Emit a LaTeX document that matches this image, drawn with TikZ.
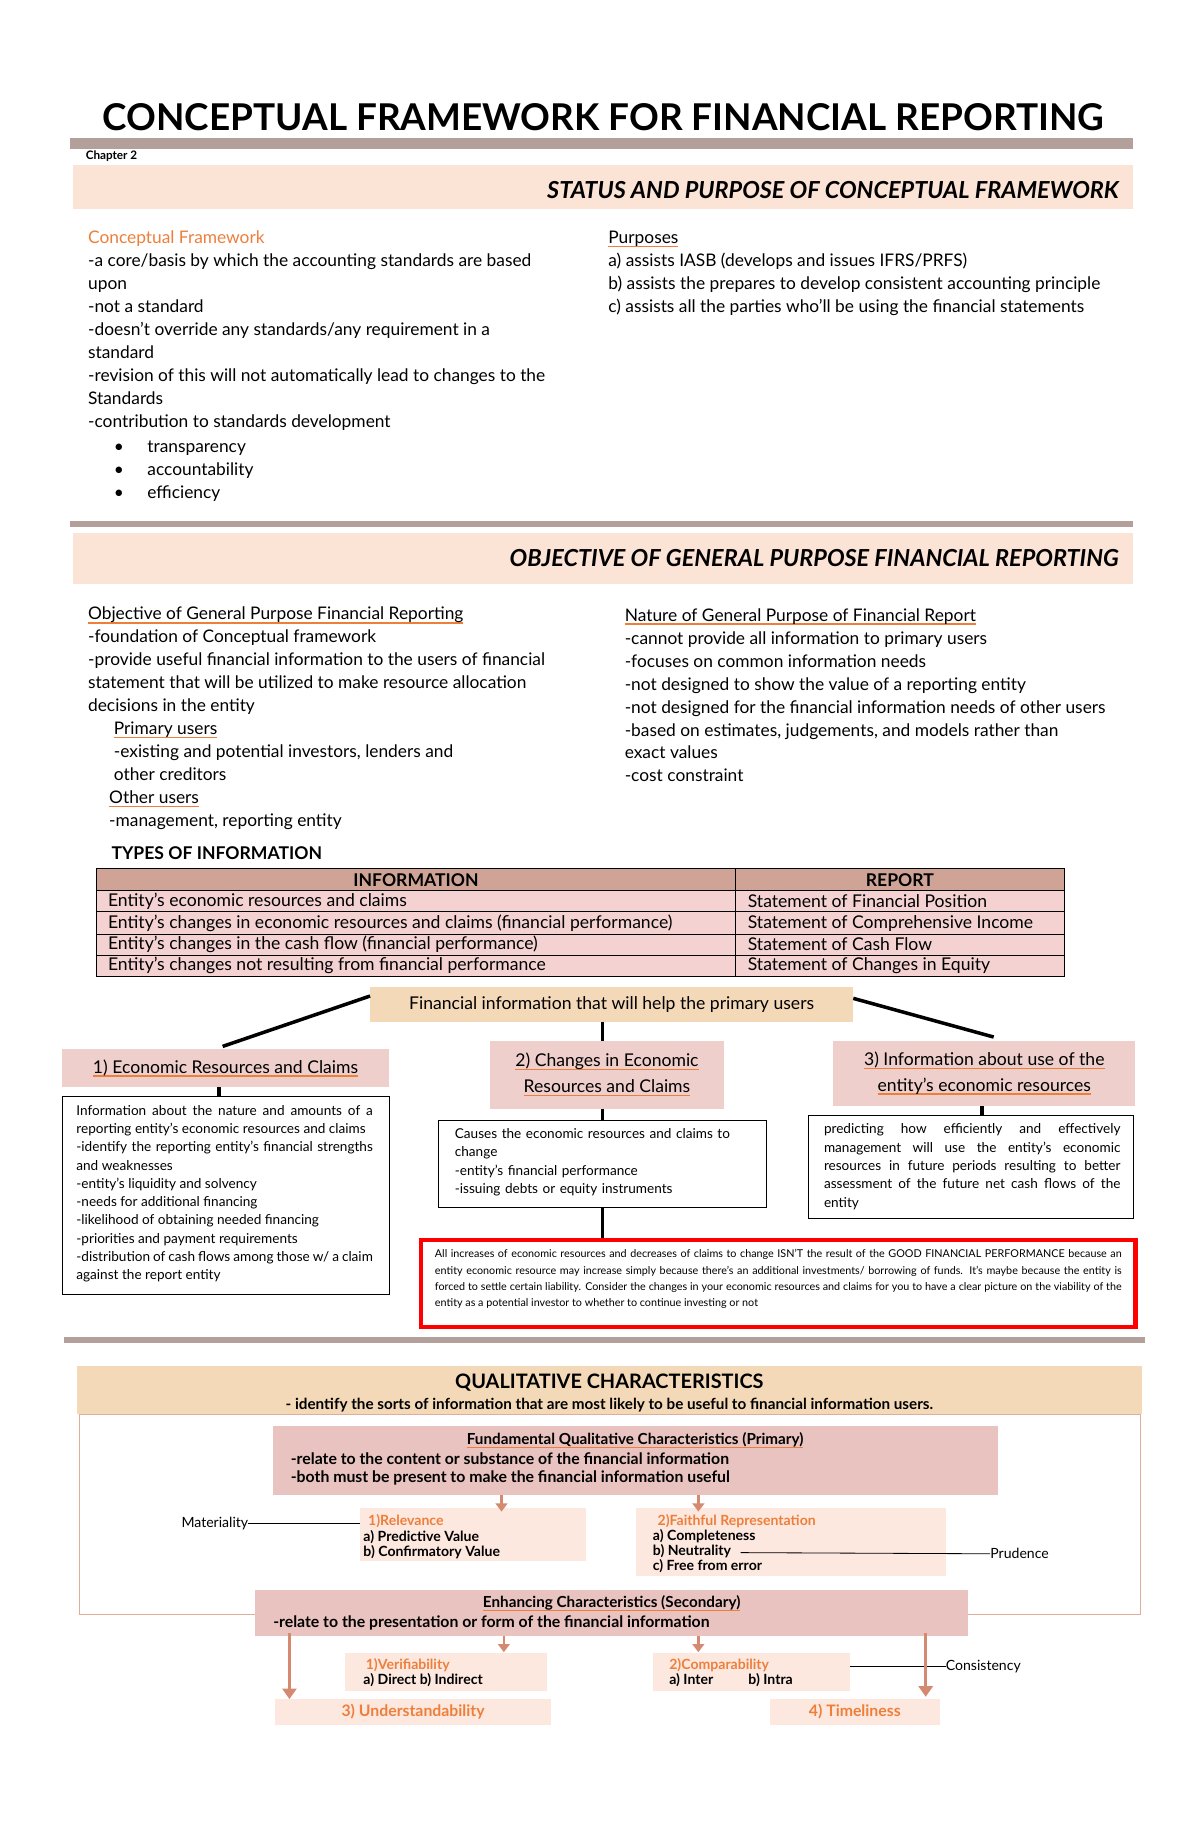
\documentclass[tikz,border=0pt]{standalone}
\usepackage{fontspec}
\setmainfont{Lato}
\usetikzlibrary{arrows.meta}
\definecolor{bandpink}{HTML}{FBE3D6}
\definecolor{bargray}{HTML}{B3A09B}
\definecolor{orng}{HTML}{EE7F3B}
\definecolor{hdr}{HTML}{CFA497}
\definecolor{rowp}{HTML}{F4D2D2}
\definecolor{tan}{HTML}{F3D9B8}
\definecolor{boxp}{HTML}{EFCFCB}
\definecolor{fund}{HTML}{E9C3BF}
\definecolor{light}{HTML}{FDE8DF}
\definecolor{arr}{HTML}{D48A70}
\hyphenpenalty=10000
\newcommand\oul[1]{\setbox0\hbox{#1}\rlap{\textcolor{orng}{\rule[-3pt]{\wd0}{1.2pt}}}\box0}
\newcommand\ful[1]{\setbox0\hbox{#1}\rlap{\textcolor{orng}{\rule[-3pt]{\wd0}{1pt}}}\box0}
\tikzset{
 body/.style={anchor=north west,align=left,inner sep=0pt,font=\fontsize{14.8}{19.6}\selectfont},
 small/.style={anchor=north west,align=left,inner sep=0pt,font=\fontsize{11.6}{15.6}\selectfont},
 band/.style={fill=bandpink,draw=none},
 bar/.style={fill=bargray,draw=none},
 ttl/.style={anchor=east,inner sep=0pt,font=\fontsize{20}{22}\selectfont\bfseries\itshape},
 con/.style={line width=3pt},
 thin/.style={draw=black,line width=0.7pt},
 darr/.style={draw=arr,line width=3pt,-{Triangle[length=9pt,width=12pt]}},
 sarr/.style={draw=arr,line width=2pt,-{Triangle[length=7pt,width=10pt]}},
 q/.style={font=\fontsize{12}{14}\selectfont,inner sep=0pt},
 tab/.style={anchor=west,inner sep=0pt,font=\fontsize{15}{16}\selectfont}
}
\begin{document}
\begin{tikzpicture}[x=1pt,y=-1pt]
\fill[white] (0,0) rectangle (1024,1566);
\useasboundingbox (0,0) rectangle (1024,1566);
% title
\node[inner sep=0pt,font=\fontsize{31.5}{34}\selectfont\bfseries] (title) at (515,100) {CONCEPTUAL FRAMEWORK FOR FINANCIAL REPORTING};
\fill[bar] (60,118) rectangle (967,127);
\node[anchor=west,inner sep=0pt,font=\fontsize{10}{12}\selectfont\bfseries] (ch) at (73,133) {Chapter 2};
\fill[band] (62,141) rectangle (967,178);
\node[ttl] (t1) at (955,162) {STATUS AND PURPOSE OF CONCEPTUAL FRAMEWORK};
\node[body] (cf) at (75,197) {\textcolor{orng}{Conceptual Framework}\\
-a core/basis by which the accounting standards are based\\
upon\\ -not a standard\\
-doesn't override any standards/any requirement in a\\ standard\\
-revision of this will not automatically lead to changes to the\\ Standards\\
-contribution to standards development};
\node[body] (bl) at (97,376) {•\hspace{20pt}transparency\\ •\hspace{20pt}accountability\\ •\hspace{20pt}efficiency};
\node[body] (pur) at (519,197) {\oul{Purposes}\\
a) assists IASB (develops and issues IFRS/PRFS)\\
b) assists the prepares to develop consistent accounting principle\\
c) assists all the parties who'll be using the financial statements};
\fill[bar] (60,445) rectangle (967,450);
\fill[band] (62,455) rectangle (967,498);
\node[ttl] (t2) at (955,476) {OBJECTIVE OF GENERAL PURPOSE FINANCIAL REPORTING};
\node[body] (obj) at (75,518) {\oul{Objective of General Purpose Financial Reporting}\\
-foundation of Conceptual framework\\
-provide useful financial information to the users of financial\\
statement that will be utilized to make resource allocation\\
decisions in the entity};
\node[body] (pu) at (97,616) {\oul{Primary users}\\ -existing and potential investors, lenders and\\ other creditors};
\node[body] (ou) at (93,675) {\oul{Other users}\\ -management, reporting entity};
\node[body] (nat) at (533,519) {\oul{Nature of General Purpose of Financial Report}\\
-cannot provide all information to primary users\\
-focuses on common information needs\\
-not designed to show the value of a reporting entity\\
-not designed for the financial information needs of other users\\
-based on estimates, judgements, and models rather than\\ exact values\\ -cost constraint};
\node[anchor=west,inner sep=0pt,font=\fontsize{15}{16}\selectfont\bfseries] (toi) at (95,728) {TYPES OF INFORMATION};
% table
\fill[hdr] (82,741) rectangle (908,760);
\fill[rowp] (82,760) rectangle (908,833);
\draw[thin] (82,741) rectangle (908,833);
\foreach \yy in {760,778,797,815} \draw[thin] (82,\yy) -- (908,\yy);
\draw[thin] (628,741) -- (628,833);
\node[inner sep=0pt,font=\fontsize{15}{16}\selectfont\bfseries] (h1) at (355,751) {INFORMATION};
\node[inner sep=0pt,font=\fontsize{15}{16}\selectfont\bfseries] (h2) at (768,751) {REPORT};
\foreach \yy/\a/\b in {769/{Entity's economic resources and claims}/{Statement of Financial Position},
 788/{Entity's changes in economic resources and claims (financial performance)}/{Statement of Comprehensive Income},
 806/{Entity's changes in the cash flow (financial performance)}/{Statement of Cash Flow},
 824/{Entity's changes not resulting from financial performance}/{Statement of Changes in Equity}}{
 \node[tab] at (92,\yy) {\a};
 \node[tab] at (638,\yy) {\b};}
% tree
\node[fill=tan,minimum width=412pt,minimum height=30pt,inner sep=0pt,font=\fontsize{15}{16}\selectfont] (fi) at (522,857) {Financial information that will help the primary users};
\node[fill=boxp,minimum width=279pt,minimum height=33pt,inner sep=0pt,font=\fontsize{15}{16}\selectfont] (b1) at (192.5,911.5) {\oul{1) Economic Resources and Claims}};
\node[fill=boxp,minimum width=200pt,minimum height=58pt,inner sep=0pt,align=center,font=\fontsize{15}{22}\selectfont] (b2) at (518,917) {\oul{2) Changes in Economic}\\ \oul{Resources and Claims}};
\node[fill=boxp,minimum width=258pt,minimum height=56pt,inner sep=0pt,align=center,font=\fontsize{15}{22}\selectfont] (b3) at (840,916) {\oul{3) Information about use of the}\\ \oul{entity's economic resources}};
\draw[con] (fi.west) ++(0,-7) coordinate (fw) -- (190,893) coordinate (e1);
\draw[con] (fi.east) ++(0,-5) coordinate (fe) -- (848,885) coordinate (e3);
\draw[con] (514,872) -- (514,888);
\node[thin,minimum width=279pt,minimum height=169pt,inner sep=0pt] (A) at (192.5,1020.5) {};
\node[small,text width=253pt,align=justify] (At) at (65,943) {Information about the nature and amounts of a reporting entity's economic resources and claims\\
-identify the reporting entity's financial strengths and weaknesses\\
-entity's liquidity and solvency\\ -needs for additional financing\\ -likelihood of obtaining needed financing\\ -priorities and payment requirements\\
-distribution of cash flows among those w/ a claim against the report entity};
\node[thin,minimum width=280pt,minimum height=74pt,inner sep=0pt] (B) at (514,993) {};
\node[small,text width=250pt] (Bt) at (388,963) {Causes the economic resources and claims to change\\ -entity's financial performance\\ -issuing debts or equity instruments};
\node[thin,minimum width=277pt,minimum height=88pt,inner sep=0pt] (C) at (828.5,996) {};
\node[small,text width=253pt,align=justify] (Ct) at (703,959) {predicting how efficiently and effectively management will use the entity's economic resources in future periods resulting to better assessment of the future net cash flows of the entity};
\draw[con] (187,928) -- (A.north -| 187,0);
\draw[con] (b2.south -| 514,0) -- (B.north);
\draw[con] (838,944) -- (C.north -| 838,0);
\node[draw=red,line width=3.5pt,minimum width=610pt,minimum height=74pt,inner sep=0pt] (R) at (664,1095.5) {};
\draw[con] (B.south) -- (R.north -| 514,0);
\node[anchor=north west,inner sep=0pt,text width=586pt,align=justify,font=\fontsize{9.2}{14}\selectfont] (Rt) at (371,1066) {All increases of economic resources and decreases of claims to change ISN'T the result of the GOOD FINANCIAL PERFORMANCE because an entity economic resource may increase simply because there's an additional investments/ borrowing of funds. It's maybe because the entity is forced to settle certain liability. Consider the changes in your economic resources and claims for you to have a clear picture on the viability of the entity as a potential investor to whether to continue investing or not};
\fill[bar] (55,1141) rectangle (977,1146);
% qualitative
\fill[tan] (66,1166) rectangle (975,1207);
\draw[draw=arr!70,line width=1pt] (68,1207) rectangle (973,1378);
\node[inner sep=0pt,font=\fontsize{17}{18}\selectfont\bfseries] (qc) at (520,1180) {QUALITATIVE CHARACTERISTICS};
\node[inner sep=0pt,font=\fontsize{13}{14}\selectfont\bfseries] (qs) at (520,1199) {- identify the sorts of information that are most likely to be useful to financial information users.};
\node[fill=fund,minimum width=619pt,minimum height=59pt,inner sep=0pt] (F) at (542.5,1246.5) {};
\node[inner sep=0pt,font=\fontsize{13}{14}\selectfont\bfseries] (Ft) at (542,1229) {\ful{Fundamental Qualitative Characteristics (Primary)}};
\node[anchor=west,inner sep=0pt,font=\fontsize{13.5}{14}\selectfont\bfseries] at (248,1245) {-relate to the content or substance of the financial information};
\node[anchor=west,inner sep=0pt,font=\fontsize{13.5}{14}\selectfont\bfseries] at (248,1261) {-both must be present to make the financial information useful};
\node[fill=light,minimum width=193pt,minimum height=45pt,inner sep=0pt] (Rel) at (403.5,1309.5) {};
\node[anchor=north west,inner sep=0pt,align=left,font=\fontsize{12}{13.5}\selectfont\bfseries] (Relt) at (310,1292) {\hspace{4pt}\textcolor{orng}{1)Relevance}\\ a) Predictive Value\\ b) Confirmatory Value};
\node[fill=light,minimum width=264pt,minimum height=58pt,inner sep=0pt] (FR) at (675,1316) {};
\node[anchor=north west,inner sep=0pt,align=left,font=\fontsize{12}{12.8}\selectfont\bfseries] (FRt) at (557,1292) {\hspace{4pt}\textcolor{orng}{2)Faithful Representation}\\ a) Completeness\\ b) Neutrality\\ c) Free from error};
\draw[sarr] (428,1276) -- (428,1290);
\draw[sarr] (596,1276) -- (596,1290);
\node[q,anchor=east] (mat) at (212,1300) {Materiality};
\draw[thin] (mat.east) -- (Rel.west |- mat.east);
\node[q,anchor=west] (pru) at (845,1326) {Prudence};
\draw[thin] (632,1325) -- (pru.west);
\node[fill=fund,minimum width=608pt,minimum height=39pt,inner sep=0pt] (E) at (522,1376.5) {};
\node[inner sep=0pt,font=\fontsize{13}{14}\selectfont\bfseries] (Et) at (522,1368) {\ful{Enhancing Characteristics (Secondary)}};
\node[anchor=west,inner sep=0pt,font=\fontsize{13.5}{14}\selectfont\bfseries] at (233,1385) {-relate to the presentation or form of the financial information};
\node[fill=light,minimum width=173pt,minimum height=32pt,inner sep=0pt] (V) at (380.5,1427) {};
\node[anchor=north west,inner sep=0pt,align=left,font=\fontsize{12}{13}\selectfont\bfseries] (Vt) at (310,1415) {\hspace{2pt}\textcolor{orng}{1)Verifiability}\\ a) Direct b) Indirect};
\node[fill=light,minimum width=168pt,minimum height=32pt,inner sep=0pt] (Cm) at (641,1427) {};
\node[anchor=north west,inner sep=0pt,align=left,font=\fontsize{12}{13}\selectfont\bfseries] (Cmt) at (571,1415) {\textcolor{orng}{2)Comparability}\\ a) Inter\hspace{30pt}b) Intra};
\node[q,anchor=west] (cons) at (807,1422) {Consistency};
\draw[thin] (725,1422) -- (cons.west);
\draw[sarr] (430,1396) -- (430,1410);
\draw[sarr] (596,1396) -- (596,1410);
\node[fill=light,minimum width=235pt,minimum height=22pt,inner sep=0pt,font=\fontsize{13.5}{14}\selectfont\bfseries] (U) at (352.5,1461) {\textcolor{orng}{3) Understandability}};
\node[fill=light,minimum width=145pt,minimum height=22pt,inner sep=0pt,font=\fontsize{13.5}{14}\selectfont\bfseries] (T) at (729.5,1461) {\textcolor{orng}{4) Timeliness}};
\draw[darr] (247,1394) -- (247,1450);
\draw[darr] (790,1394) -- (790,1448);
\end{tikzpicture}
\end{document}
